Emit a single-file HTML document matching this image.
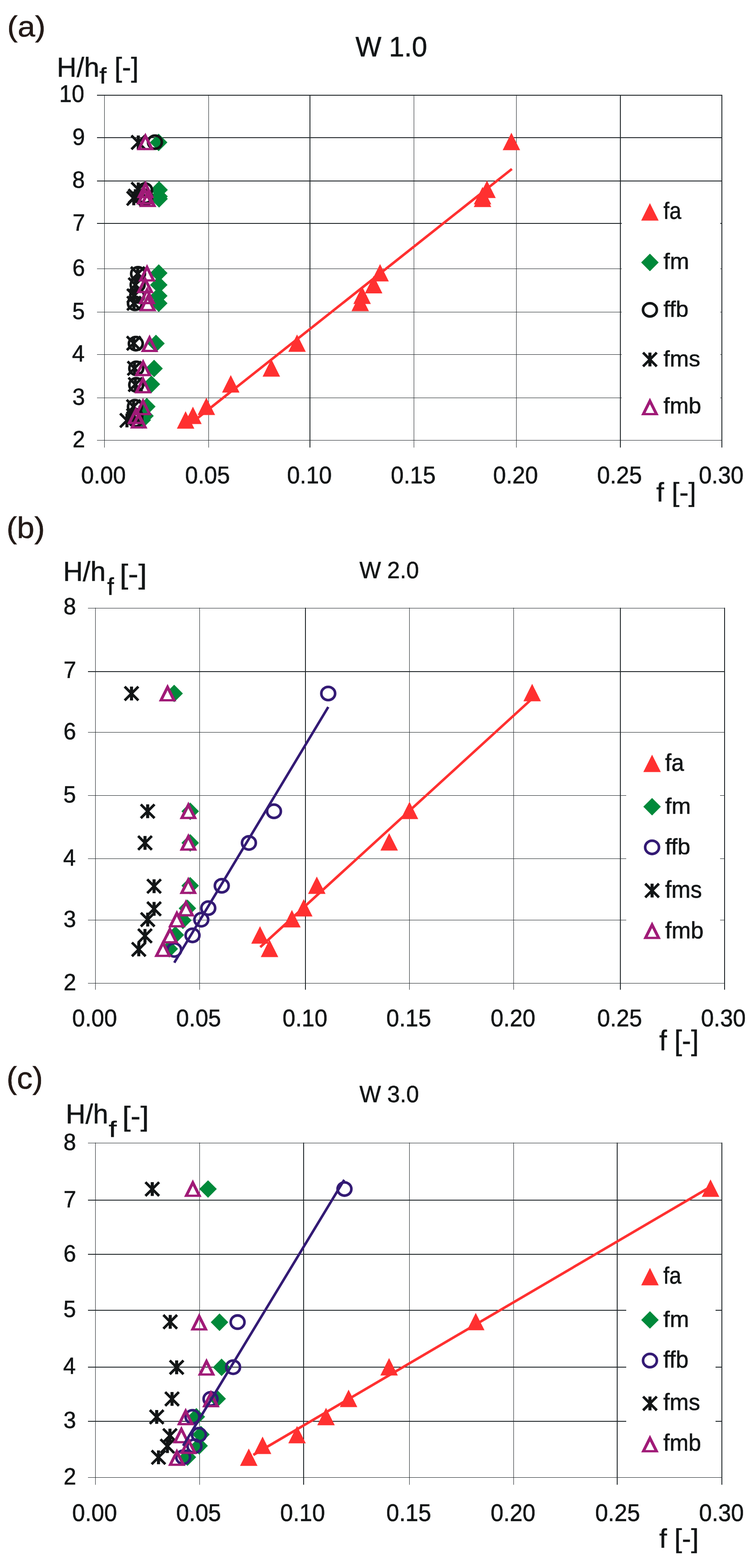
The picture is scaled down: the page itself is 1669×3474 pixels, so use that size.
<!DOCTYPE html>
<html><head><meta charset="utf-8"><title>Friction factor charts W 1.0 / W 2.0 / W 3.0</title>
<style>html,body{margin:0;padding:0;background:#fff}svg{display:block}</style></head>
<body>
<svg width="1669" height="3474" viewBox="0 0 1669 3474">
<rect width="1669" height="3474" fill="#fff"/>
<path d="M215,211H1601.0" stroke="#23292c" stroke-width="2"/>
<path d="M215,305H1601.0" stroke="#23292c" stroke-width="2"/>
<path d="M215,401H1601.0" stroke="#23292c" stroke-width="2"/>
<path d="M215,495H1601.0" stroke="#23292c" stroke-width="2"/>
<path d="M215,595.5H1601.0" stroke="#23292c" stroke-width="1"/>
<path d="M215,691.5H1601.0" stroke="#23292c" stroke-width="1"/>
<path d="M215,785.5H1601.0" stroke="#23292c" stroke-width="1"/>
<path d="M215,881.5H1601.0" stroke="#23292c" stroke-width="1"/>
<path d="M215,975.5H1601.0" stroke="#23292c" stroke-width="1"/>
<path d="M231.5,209.9V991.6" stroke="#23292c" stroke-width="1"/>
<path d="M462.5,209.9V991.6" stroke="#23292c" stroke-width="1"/>
<path d="M687,209.9V991.6" stroke="#23292c" stroke-width="2"/>
<path d="M917.5,209.9V991.6" stroke="#23292c" stroke-width="1"/>
<path d="M1144.5,209.9V991.6" stroke="#23292c" stroke-width="1"/>
<path d="M1375,209.9V991.6" stroke="#23292c" stroke-width="2"/>
<path d="M1600,209.9V991.6" stroke="#23292c" stroke-width="2"/>
<path d="M195,1347.5H1606.7" stroke="#23292c" stroke-width="1"/>
<path d="M195,1488H1606.7" stroke="#23292c" stroke-width="2"/>
<path d="M195,1622.5H1606.7" stroke="#23292c" stroke-width="1"/>
<path d="M195,1762.5H1606.7" stroke="#23292c" stroke-width="1"/>
<path d="M195,1902.5H1606.7" stroke="#23292c" stroke-width="1"/>
<path d="M195,2038.5H1606.7" stroke="#23292c" stroke-width="1"/>
<path d="M195,2178.5H1606.7" stroke="#23292c" stroke-width="1"/>
<path d="M211.5,1346.5V2192.8" stroke="#23292c" stroke-width="1"/>
<path d="M442.5,1346.5V2192.8" stroke="#23292c" stroke-width="1"/>
<path d="M677,1346.5V2192.8" stroke="#23292c" stroke-width="2"/>
<path d="M907.5,1346.5V2192.8" stroke="#23292c" stroke-width="1"/>
<path d="M1138.5,1346.5V2192.8" stroke="#23292c" stroke-width="1"/>
<path d="M1375,1346.5V2192.8" stroke="#23292c" stroke-width="2"/>
<path d="M1606,1346.5V2192.8" stroke="#23292c" stroke-width="2"/>
<path d="M195,2532.5H1601.0" stroke="#23292c" stroke-width="1"/>
<path d="M195,2659H1601.0" stroke="#23292c" stroke-width="2"/>
<path d="M195,2779H1601.0" stroke="#23292c" stroke-width="2"/>
<path d="M195,2903H1601.0" stroke="#23292c" stroke-width="2"/>
<path d="M195,3029H1601.0" stroke="#23292c" stroke-width="2"/>
<path d="M195,3149H1601.0" stroke="#23292c" stroke-width="2"/>
<path d="M195,3273.5H1601.0" stroke="#23292c" stroke-width="1"/>
<path d="M211.5,2531.5V3289.6" stroke="#23292c" stroke-width="1"/>
<path d="M442.5,2531.5V3289.6" stroke="#23292c" stroke-width="1"/>
<path d="M673,2531.5V3289.6" stroke="#23292c" stroke-width="2"/>
<path d="M907.5,2531.5V3289.6" stroke="#23292c" stroke-width="1"/>
<path d="M1138.5,2531.5V3289.6" stroke="#23292c" stroke-width="1"/>
<path d="M1368,2531.5V3289.6" stroke="#23292c" stroke-width="2"/>
<path d="M1600,2531.5V3289.6" stroke="#23292c" stroke-width="2"/>
<rect x="1378" y="415" width="218.5" height="557" fill="#fff"/>
<rect x="1388" y="1630" width="208" height="541" fill="#fff"/>
<rect x="1388" y="2780" width="198" height="490" fill="#fff"/>
<g style="font-family:'Liberation Sans',Arial,sans-serif" stroke-width="0.7">
<text transform="matrix(1.0600,0,0,1,16.09,80.93)" font-size="65.56" fill="#231a17" stroke="#231a17">(a)</text>
<text transform="matrix(0.9746,0,0,1,788.10,124.98)" font-size="62.29" fill="#121516" stroke="#121516">W 1.0</text>
<text transform="matrix(0.9931,0,0,1,126.05,170.09)" font-size="60.82" fill="#121516" stroke="#121516">H/h</text>
<text transform="matrix(1.1167,0,0,1,220.21,184.80)" font-size="50.69" fill="#121516" stroke="#121516">f</text>
<text transform="matrix(0.9856,0,0,1,253.83,170.21)" font-size="60.99" fill="#121516" stroke="#121516">[-]</text>
<text transform="matrix(1.0247,0,0,1,1454.74,1110.78)" font-size="59.70" fill="#121516" stroke="#121516">f [-]</text>
<text transform="matrix(1.0362,0,0,1,14.39,1191.62)" font-size="67.06" fill="#231a17" stroke="#231a17">(b)</text>
<text transform="matrix(0.9717,0,0,1,796.65,1281.28)" font-size="51.98" fill="#121516" stroke="#121516">W 2.0</text>
<text transform="matrix(0.9877,0,0,1,139.94,1287.09)" font-size="61.22" fill="#121516" stroke="#121516">H/h</text>
<text transform="matrix(1.0095,0,0,1,237.44,1317.90)" font-size="53.45" fill="#121516" stroke="#121516">f</text>
<text transform="matrix(1.1230,0,0,1,265.17,1292.90)" font-size="60.56" fill="#121516" stroke="#121516">[-]</text>
<text transform="matrix(0.9640,0,0,1,1461.15,2327.46)" font-size="62.70" fill="#121516" stroke="#121516">f [-]</text>
<text transform="matrix(1.0075,0,0,1,14.40,2411.96)" font-size="68.78" fill="#231a17" stroke="#231a17">(c)</text>
<text transform="matrix(0.9638,0,0,1,796.65,2441.98)" font-size="52.40" fill="#121516" stroke="#121516">W 3.0</text>
<text transform="matrix(0.9779,0,0,1,145.74,2488.78)" font-size="61.90" fill="#121516" stroke="#121516">H/h</text>
<text transform="matrix(1.2324,0,0,1,241.12,2518.50)" font-size="50.83" fill="#121516" stroke="#121516">f</text>
<text transform="matrix(1.0838,0,0,1,271.22,2494.06)" font-size="60.77" fill="#121516" stroke="#121516">[-]</text>
<text transform="matrix(1.0234,0,0,1,1461.15,3429.02)" font-size="59.06" fill="#121516" stroke="#121516">f [-]</text>
<text transform="matrix(0.9252,0,0,1,131.20,225.56)" font-size="54.10" fill="#121516" stroke="#121516">10</text>
<text transform="matrix(0.9700,0,0,1,160.57,320.50)" font-size="51.50" fill="#121516" stroke="#121516">9</text>
<text transform="matrix(0.9700,0,0,1,160.37,416.30)" font-size="51.50" fill="#121516" stroke="#121516">8</text>
<text transform="matrix(0.9700,0,0,1,160.72,510.50)" font-size="51.50" fill="#121516" stroke="#121516">7</text>
<text transform="matrix(0.9700,0,0,1,160.42,611.00)" font-size="51.50" fill="#121516" stroke="#121516">6</text>
<text transform="matrix(0.9700,0,0,1,160.32,707.10)" font-size="51.50" fill="#121516" stroke="#121516">5</text>
<text transform="matrix(0.9700,0,0,1,159.67,801.00)" font-size="51.50" fill="#121516" stroke="#121516">4</text>
<text transform="matrix(0.9700,0,0,1,160.42,896.80)" font-size="51.50" fill="#121516" stroke="#121516">3</text>
<text transform="matrix(0.9700,0,0,1,160.72,991.00)" font-size="51.50" fill="#121516" stroke="#121516">2</text>
<text transform="matrix(0.9700,0,0,1,140.67,1361.10)" font-size="51.50" fill="#121516" stroke="#121516">8</text>
<text transform="matrix(0.9700,0,0,1,141.02,1501.70)" font-size="51.50" fill="#121516" stroke="#121516">7</text>
<text transform="matrix(0.9700,0,0,1,140.72,1638.00)" font-size="51.50" fill="#121516" stroke="#121516">6</text>
<text transform="matrix(0.9700,0,0,1,140.62,1778.00)" font-size="51.50" fill="#121516" stroke="#121516">5</text>
<text transform="matrix(0.9700,0,0,1,139.97,1918.00)" font-size="51.50" fill="#121516" stroke="#121516">4</text>
<text transform="matrix(0.9700,0,0,1,140.72,2054.00)" font-size="51.50" fill="#121516" stroke="#121516">3</text>
<text transform="matrix(0.9700,0,0,1,141.02,2193.90)" font-size="51.50" fill="#121516" stroke="#121516">2</text>
<text transform="matrix(0.9700,0,0,1,140.67,2548.10)" font-size="51.50" fill="#121516" stroke="#121516">8</text>
<text transform="matrix(0.9700,0,0,1,141.02,2674.60)" font-size="51.50" fill="#121516" stroke="#121516">7</text>
<text transform="matrix(0.9700,0,0,1,140.72,2794.60)" font-size="51.50" fill="#121516" stroke="#121516">6</text>
<text transform="matrix(0.9700,0,0,1,140.62,2918.30)" font-size="51.50" fill="#121516" stroke="#121516">5</text>
<text transform="matrix(0.9700,0,0,1,139.97,3044.40)" font-size="51.50" fill="#121516" stroke="#121516">4</text>
<text transform="matrix(0.9700,0,0,1,140.72,3164.40)" font-size="51.50" fill="#121516" stroke="#121516">3</text>
<text transform="matrix(0.9700,0,0,1,141.02,3289.10)" font-size="51.50" fill="#121516" stroke="#121516">2</text>
<text transform="matrix(0.9470,0,0,1,179.76,1071.46)" font-size="53.81" fill="#121516" stroke="#121516">0.00</text>
<text transform="matrix(0.9486,0,0,1,410.26,1071.46)" font-size="53.81" fill="#121516" stroke="#121516">0.05</text>
<text transform="matrix(0.9470,0,0,1,636.26,1071.46)" font-size="53.81" fill="#121516" stroke="#121516">0.10</text>
<text transform="matrix(0.9486,0,0,1,866.31,1071.46)" font-size="53.81" fill="#121516" stroke="#121516">0.15</text>
<text transform="matrix(0.9470,0,0,1,1093.06,1071.46)" font-size="53.81" fill="#121516" stroke="#121516">0.20</text>
<text transform="matrix(0.9486,0,0,1,1323.56,1071.46)" font-size="53.81" fill="#121516" stroke="#121516">0.25</text>
<text transform="matrix(0.9470,0,0,1,1548.91,1071.46)" font-size="53.81" fill="#121516" stroke="#121516">0.30</text>
<text transform="matrix(0.9470,0,0,1,160.06,2274.36)" font-size="53.81" fill="#121516" stroke="#121516">0.00</text>
<text transform="matrix(0.9486,0,0,1,390.61,2274.36)" font-size="53.81" fill="#121516" stroke="#121516">0.05</text>
<text transform="matrix(0.9470,0,0,1,626.31,2274.36)" font-size="53.81" fill="#121516" stroke="#121516">0.10</text>
<text transform="matrix(0.9486,0,0,1,856.31,2274.36)" font-size="53.81" fill="#121516" stroke="#121516">0.15</text>
<text transform="matrix(0.9470,0,0,1,1087.41,2274.36)" font-size="53.81" fill="#121516" stroke="#121516">0.20</text>
<text transform="matrix(0.9486,0,0,1,1323.81,2274.36)" font-size="53.81" fill="#121516" stroke="#121516">0.25</text>
<text transform="matrix(0.9470,0,0,1,1553.76,2274.36)" font-size="53.81" fill="#121516" stroke="#121516">0.30</text>
<text transform="matrix(0.9495,0,0,1,160.06,3370.46)" font-size="53.67" fill="#121516" stroke="#121516">0.00</text>
<text transform="matrix(0.9511,0,0,1,390.61,3370.46)" font-size="53.67" fill="#121516" stroke="#121516">0.05</text>
<text transform="matrix(0.9495,0,0,1,621.11,3370.46)" font-size="53.67" fill="#121516" stroke="#121516">0.10</text>
<text transform="matrix(0.9511,0,0,1,856.31,3370.46)" font-size="53.67" fill="#121516" stroke="#121516">0.15</text>
<text transform="matrix(0.9495,0,0,1,1087.41,3370.46)" font-size="53.67" fill="#121516" stroke="#121516">0.20</text>
<text transform="matrix(0.9511,0,0,1,1319.21,3370.46)" font-size="53.67" fill="#121516" stroke="#121516">0.25</text>
<text transform="matrix(0.9495,0,0,1,1549.41,3370.46)" font-size="53.67" fill="#121516" stroke="#121516">0.30</text>
<text transform="matrix(0.9212,0,0,1,1470.54,485.29)" font-size="51.36" fill="#121516" stroke="#121516">fa</text>
<text transform="matrix(1.0095,0,0,1,1470.48,596.00)" font-size="50.83" fill="#121516" stroke="#121516">fm</text>
<text transform="matrix(1.0069,0,0,1,1470.49,701.89)" font-size="50.61" fill="#121516" stroke="#121516">ffb</text>
<text transform="matrix(1.0052,0,0,1,1470.49,812.10)" font-size="50.41" fill="#121516" stroke="#121516">fms</text>
<text transform="matrix(1.0042,0,0,1,1470.50,916.20)" font-size="50.07" fill="#121516" stroke="#121516">fmb</text>
<text transform="matrix(0.9483,0,0,1,1474.30,1708.47)" font-size="52.72" fill="#121516" stroke="#121516">fa</text>
<text transform="matrix(1.0122,0,0,1,1474.28,1802.60)" font-size="50.69" fill="#121516" stroke="#121516">fm</text>
<text transform="matrix(1.0124,0,0,1,1474.29,1892.50)" font-size="50.34" fill="#121516" stroke="#121516">ffb</text>
<text transform="matrix(0.9464,0,0,1,1474.29,1988.76)" font-size="53.54" fill="#121516" stroke="#121516">fms</text>
<text transform="matrix(0.9728,0,0,1,1474.28,2078.57)" font-size="52.52" fill="#121516" stroke="#121516">fmb</text>
<text transform="matrix(0.9307,0,0,1,1470.33,2844.49)" font-size="51.36" fill="#121516" stroke="#121516">fa</text>
<text transform="matrix(1.0197,0,0,1,1470.28,2939.80)" font-size="50.41" fill="#121516" stroke="#121516">fm</text>
<text transform="matrix(0.9928,0,0,1,1470.29,3029.99)" font-size="51.43" fill="#121516" stroke="#121516">ffb</text>
<text transform="matrix(0.9827,0,0,1,1470.29,3124.09)" font-size="51.50" fill="#121516" stroke="#121516">fms</text>
<text transform="matrix(0.9816,0,0,1,1470.30,3214.09)" font-size="51.16" fill="#121516" stroke="#121516">fmb</text>
</g>
<path d="M1440.5,450.0L1459.9,488.8L1421.1,488.8Z" fill="#ff3030"/>
<path d="M1440.5,562.1L1459.9,581.5L1440.5,600.9L1421.1,581.5Z" fill="#00893a"/>
<ellipse cx="1440.5" cy="686.5" rx="15.3" ry="14.7" fill="none" stroke="#121516" stroke-width="5.8"/>
<path d="M1425.3,781.3L1455.7,811.7M1455.7,781.3L1425.3,811.7" stroke="#121516" stroke-width="5.8" fill="none"/><rect x="1437.1" y="781.2" width="6.8" height="30.6" fill="#121516"/>
<path fill-rule="evenodd" d="M1440.5,881.2L1459.9,920.0L1421.1,920.0ZM1440.5,895.5L1450.2,915.0L1430.8,915.0Z" fill="#a01a77"/>
<path d="M1445.3,1672.0L1464.7,1710.6L1425.9,1710.6Z" fill="#ff3030"/>
<path d="M1445.3,1767.9L1464.7,1787.3L1445.3,1806.7L1425.9,1787.3Z" fill="#00893a"/>
<ellipse cx="1445.3" cy="1877.3" rx="15.3" ry="14.7" fill="none" stroke="#331a74" stroke-width="5.8"/>
<path d="M1430.1,1957.9L1460.5,1988.3M1460.5,1957.9L1430.1,1988.3" stroke="#121516" stroke-width="5.8" fill="none"/><rect x="1441.9" y="1957.8" width="6.8" height="30.6" fill="#121516"/>
<path fill-rule="evenodd" d="M1445.3,2041.8L1464.7,2080.5L1425.9,2080.5ZM1445.3,2056.2L1455.0,2075.5L1435.6,2075.5Z" fill="#a01a77"/>
<path d="M1440.6,2809.0L1460.0,2847.7L1421.2,2847.7Z" fill="#ff3030"/>
<path d="M1440.6,2905.0L1460.0,2924.4L1440.6,2943.8L1421.2,2924.4Z" fill="#00893a"/>
<ellipse cx="1440.6" cy="3014.4" rx="15.3" ry="14.7" fill="none" stroke="#331a74" stroke-width="5.8"/>
<path d="M1425.4,3094.2L1455.8,3124.6M1455.8,3094.2L1425.4,3124.6" stroke="#121516" stroke-width="5.8" fill="none"/><rect x="1437.2" y="3094.1" width="6.8" height="30.6" fill="#121516"/>
<path fill-rule="evenodd" d="M1440.6,3179.1L1460.0,3217.8L1421.2,3217.8ZM1440.6,3193.4L1450.3,3212.8L1430.9,3212.8Z" fill="#a01a77"/>
<path d="M1133.5,294.0L1152.9,332.8L1114.1,332.8Z" fill="#ff3030"/>
<path d="M1079.4,399.9L1098.8,438.7L1060.0,438.7Z" fill="#ff3030"/>
<path d="M1069.5,413.9L1088.9,452.7L1050.1,452.7Z" fill="#ff3030"/>
<path d="M1069.5,419.9L1088.9,458.7L1050.1,458.7Z" fill="#ff3030"/>
<path d="M842.4,584.9L861.8,623.6L823.0,623.6Z" fill="#ff3030"/>
<path d="M828.2,611.1L847.6,649.9L808.8,649.9Z" fill="#ff3030"/>
<path d="M802.6,634.6L822.0,673.4L783.2,673.4Z" fill="#ff3030"/>
<path d="M798.4,650.9L817.8,689.6L779.0,689.6Z" fill="#ff3030"/>
<path d="M658.4,740.9L677.8,779.6L639.0,779.6Z" fill="#ff3030"/>
<path d="M601.4,795.6L620.8,834.4L582.0,834.4Z" fill="#ff3030"/>
<path d="M511.5,831.0L530.9,869.8L492.1,869.8Z" fill="#ff3030"/>
<path d="M457.4,880.9L476.8,919.6L438.0,919.6Z" fill="#ff3030"/>
<path d="M427.6,900.9L447.0,939.6L408.2,939.6Z" fill="#ff3030"/>
<path d="M411.4,911.0L430.8,949.8L392.0,949.8Z" fill="#ff3030"/>
<path d="M351.6,296.2L371.0,315.6L351.6,335.0L332.2,315.6Z" fill="#00893a"/>
<path d="M352.6,401.3L372.0,420.7L352.6,440.1L333.2,420.7Z" fill="#00893a"/>
<path d="M352.6,415.8L372.0,435.2L352.6,454.6L333.2,435.2Z" fill="#00893a"/>
<path d="M352.6,421.2L372.0,440.6L352.6,460.0L333.2,440.6Z" fill="#00893a"/>
<path d="M351.9,585.6L371.3,605.0L351.9,624.4L332.5,605.0Z" fill="#00893a"/>
<path d="M351.9,611.8L371.3,631.2L351.9,650.6L332.5,631.2Z" fill="#00893a"/>
<path d="M351.9,636.1L371.3,655.5L351.9,674.9L332.5,655.5Z" fill="#00893a"/>
<path d="M351.9,652.5L371.3,671.9L351.9,691.3L332.5,671.9Z" fill="#00893a"/>
<path d="M345.7,741.6L365.1,761.0L345.7,780.4L326.3,761.0Z" fill="#00893a"/>
<path d="M341.5,797.0L360.9,816.4L341.5,835.8L322.1,816.4Z" fill="#00893a"/>
<path d="M335.6,831.9L355.0,851.3L335.6,870.7L316.2,851.3Z" fill="#00893a"/>
<path d="M325.4,881.4L344.8,900.8L325.4,920.2L306.0,900.8Z" fill="#00893a"/>
<path d="M321.4,902.0L340.8,921.4L321.4,940.8L302.0,921.4Z" fill="#00893a"/>
<path d="M315.3,911.3L334.7,930.7L315.3,950.1L295.9,930.7Z" fill="#00893a"/>
<ellipse cx="343.4" cy="315.0" rx="15.3" ry="14.7" fill="none" stroke="#121516" stroke-width="5.8"/>
<ellipse cx="321.5" cy="421.0" rx="15.3" ry="14.7" fill="none" stroke="#121516" stroke-width="5.8"/>
<ellipse cx="321.5" cy="435.0" rx="15.3" ry="14.7" fill="none" stroke="#121516" stroke-width="5.8"/>
<ellipse cx="321.5" cy="440.0" rx="15.3" ry="14.7" fill="none" stroke="#121516" stroke-width="5.8"/>
<ellipse cx="306.0" cy="606.5" rx="15.3" ry="14.7" fill="none" stroke="#121516" stroke-width="5.8"/>
<ellipse cx="305.0" cy="631.0" rx="15.3" ry="14.7" fill="none" stroke="#121516" stroke-width="5.8"/>
<ellipse cx="304.0" cy="655.5" rx="15.3" ry="14.7" fill="none" stroke="#121516" stroke-width="5.8"/>
<ellipse cx="299.0" cy="672.0" rx="15.3" ry="14.7" fill="none" stroke="#121516" stroke-width="5.8"/>
<ellipse cx="301.0" cy="761.3" rx="15.3" ry="14.7" fill="none" stroke="#121516" stroke-width="5.8"/>
<ellipse cx="302.0" cy="816.0" rx="15.3" ry="14.7" fill="none" stroke="#121516" stroke-width="5.8"/>
<ellipse cx="301.9" cy="852.7" rx="15.3" ry="14.7" fill="none" stroke="#121516" stroke-width="5.8"/>
<ellipse cx="299.0" cy="901.0" rx="15.3" ry="14.7" fill="none" stroke="#121516" stroke-width="5.8"/>
<ellipse cx="300.0" cy="921.0" rx="15.3" ry="14.7" fill="none" stroke="#121516" stroke-width="5.8"/>
<ellipse cx="300.0" cy="930.0" rx="15.3" ry="14.7" fill="none" stroke="#121516" stroke-width="5.8"/>
<path d="M291.3,300.3L321.7,330.7M321.7,300.3L291.3,330.7" stroke="#121516" stroke-width="5.8" fill="none"/><rect x="303.1" y="300.2" width="6.8" height="30.6" fill="#121516"/>
<path d="M291.3,404.3L321.7,434.7M321.7,404.3L291.3,434.7" stroke="#121516" stroke-width="5.8" fill="none"/><rect x="303.1" y="404.2" width="6.8" height="30.6" fill="#121516"/>
<path d="M284.8,419.3L315.2,449.7M315.2,419.3L284.8,449.7" stroke="#121516" stroke-width="5.8" fill="none"/><rect x="296.6" y="419.2" width="6.8" height="30.6" fill="#121516"/>
<path d="M281.3,424.3L311.7,454.7M311.7,424.3L281.3,454.7" stroke="#121516" stroke-width="5.8" fill="none"/><rect x="293.1" y="424.2" width="6.8" height="30.6" fill="#121516"/>
<path d="M290.2,591.2L320.6,621.6M320.6,591.2L290.2,621.6" stroke="#121516" stroke-width="5.8" fill="none"/><rect x="302.0" y="591.1" width="6.8" height="30.6" fill="#121516"/>
<path d="M284.8,615.8L315.2,646.2M315.2,615.8L284.8,646.2" stroke="#121516" stroke-width="5.8" fill="none"/><rect x="296.6" y="615.7" width="6.8" height="30.6" fill="#121516"/>
<path d="M281.8,640.3L312.2,670.7M312.2,640.3L281.8,670.7" stroke="#121516" stroke-width="5.8" fill="none"/><rect x="293.6" y="640.2" width="6.8" height="30.6" fill="#121516"/>
<path d="M281.8,656.8L312.2,687.2M312.2,656.8L281.8,687.2" stroke="#121516" stroke-width="5.8" fill="none"/><rect x="293.6" y="656.7" width="6.8" height="30.6" fill="#121516"/>
<path d="M281.2,745.3L311.6,775.7M311.6,745.3L281.2,775.7" stroke="#121516" stroke-width="5.8" fill="none"/><rect x="293.0" y="745.2" width="6.8" height="30.6" fill="#121516"/>
<path d="M282.8,800.8L313.2,831.2M313.2,800.8L282.8,831.2" stroke="#121516" stroke-width="5.8" fill="none"/><rect x="294.6" y="800.7" width="6.8" height="30.6" fill="#121516"/>
<path d="M284.8,836.8L315.2,867.2M315.2,836.8L284.8,867.2" stroke="#121516" stroke-width="5.8" fill="none"/><rect x="296.6" y="836.7" width="6.8" height="30.6" fill="#121516"/>
<path d="M280.8,885.8L311.2,916.2M311.2,885.8L280.8,916.2" stroke="#121516" stroke-width="5.8" fill="none"/><rect x="292.6" y="885.7" width="6.8" height="30.6" fill="#121516"/>
<path d="M280.8,905.8L311.2,936.2M311.2,905.8L280.8,936.2" stroke="#121516" stroke-width="5.8" fill="none"/><rect x="292.6" y="905.7" width="6.8" height="30.6" fill="#121516"/>
<path d="M266.2,916.3L296.6,946.7M296.6,916.3L266.2,946.7" stroke="#121516" stroke-width="5.8" fill="none"/><rect x="278.0" y="916.2" width="6.8" height="30.6" fill="#121516"/>
<path fill-rule="evenodd" d="M322.3,294.0L341.7,332.8L302.9,332.8ZM322.3,308.3L332.0,327.8L312.6,327.8Z" fill="#a01a77"/>
<path fill-rule="evenodd" d="M322.5,400.1L341.9,438.9L303.1,438.9ZM322.5,414.4L332.2,433.9L312.8,433.9Z" fill="#a01a77"/>
<path fill-rule="evenodd" d="M321.2,414.2L340.6,453.0L301.8,453.0ZM321.2,428.6L330.9,448.0L311.5,448.0Z" fill="#a01a77"/>
<path fill-rule="evenodd" d="M327.4,419.9L346.8,458.7L308.0,458.7ZM327.4,434.2L337.1,453.7L317.7,453.7Z" fill="#a01a77"/>
<path fill-rule="evenodd" d="M325.9,585.0L345.3,623.8L306.5,623.8ZM325.9,599.3L335.6,618.8L316.2,618.8Z" fill="#a01a77"/>
<path fill-rule="evenodd" d="M321.5,610.9L340.9,649.6L302.1,649.6ZM321.5,625.1L331.2,644.6L311.8,644.6Z" fill="#a01a77"/>
<path fill-rule="evenodd" d="M325.9,635.1L345.3,673.9L306.5,673.9ZM325.9,649.4L335.6,668.9L316.2,668.9Z" fill="#a01a77"/>
<path fill-rule="evenodd" d="M327.3,650.9L346.7,689.6L307.9,689.6ZM327.3,665.1L337.0,684.6L317.6,684.6Z" fill="#a01a77"/>
<path fill-rule="evenodd" d="M331.5,741.1L350.9,779.9L312.1,779.9ZM331.5,755.4L341.2,774.9L321.8,774.9Z" fill="#a01a77"/>
<path fill-rule="evenodd" d="M317.2,794.9L336.6,833.6L297.8,833.6ZM317.2,809.2L326.9,828.6L307.5,828.6Z" fill="#a01a77"/>
<path fill-rule="evenodd" d="M317.0,832.6L336.4,871.4L297.6,871.4ZM317.0,846.9L326.7,866.4L307.3,866.4Z" fill="#a01a77"/>
<path fill-rule="evenodd" d="M317.0,881.2L336.4,920.0L297.6,920.0ZM317.0,895.5L326.7,915.0L307.3,915.0Z" fill="#a01a77"/>
<path fill-rule="evenodd" d="M301.1,900.9L320.5,939.6L281.7,939.6ZM301.1,915.2L310.8,934.6L291.4,934.6Z" fill="#a01a77"/>
<path fill-rule="evenodd" d="M307.5,910.9L326.9,949.6L288.1,949.6ZM307.5,925.2L317.2,944.6L297.8,944.6Z" fill="#a01a77"/>
<path d="M437,927L1134.6,374.4" stroke="#ff3030" stroke-width="5.6" fill="none"/>
<path d="M1179.5,1515.1L1198.9,1553.8L1160.1,1553.8Z" fill="#ff3030"/>
<path d="M907.6,1776.2L927.0,1814.8L888.2,1814.8Z" fill="#ff3030"/>
<path d="M862.6,1845.9L882.0,1884.5L843.2,1884.5Z" fill="#ff3030"/>
<path d="M702.2,1942.0L721.6,1980.6L682.8,1980.6Z" fill="#ff3030"/>
<path d="M673.3,1992.0L692.7,2030.6L653.9,2030.6Z" fill="#ff3030"/>
<path d="M647.0,2016.1L666.4,2054.8L627.6,2054.8Z" fill="#ff3030"/>
<path d="M576.3,2052.0L595.7,2090.7L556.9,2090.7Z" fill="#ff3030"/>
<path d="M597.4,2081.8L616.8,2120.5L578.0,2120.5Z" fill="#ff3030"/>
<path d="M386.0,1517.0L405.4,1536.4L386.0,1555.8L366.6,1536.4Z" fill="#00893a"/>
<path d="M421.6,1778.1L441.0,1797.5L421.6,1816.9L402.2,1797.5Z" fill="#00893a"/>
<path d="M421.6,1848.1L441.0,1867.5L421.6,1886.9L402.2,1867.5Z" fill="#00893a"/>
<path d="M421.5,1942.9L440.9,1962.3L421.5,1981.7L402.1,1962.3Z" fill="#00893a"/>
<path d="M415.4,1993.0L434.8,2012.4L415.4,2031.8L396.0,2012.4Z" fill="#00893a"/>
<path d="M405.4,2019.6L424.8,2039.0L405.4,2058.4L386.0,2039.0Z" fill="#00893a"/>
<path d="M388.7,2052.1L408.1,2071.5L388.7,2090.9L369.3,2071.5Z" fill="#00893a"/>
<path d="M375.3,2082.8L394.7,2102.2L375.3,2121.6L355.9,2102.2Z" fill="#00893a"/>
<ellipse cx="727.5" cy="1536.5" rx="15.3" ry="14.7" fill="none" stroke="#331a74" stroke-width="5.8"/>
<ellipse cx="607.2" cy="1797.4" rx="15.3" ry="14.7" fill="none" stroke="#331a74" stroke-width="5.8"/>
<ellipse cx="551.7" cy="1867.6" rx="15.3" ry="14.7" fill="none" stroke="#331a74" stroke-width="5.8"/>
<ellipse cx="491.5" cy="1962.5" rx="15.3" ry="14.7" fill="none" stroke="#331a74" stroke-width="5.8"/>
<ellipse cx="461.6" cy="2012.0" rx="15.3" ry="14.7" fill="none" stroke="#331a74" stroke-width="5.8"/>
<ellipse cx="446.2" cy="2037.6" rx="15.3" ry="14.7" fill="none" stroke="#331a74" stroke-width="5.8"/>
<ellipse cx="426.7" cy="2072.3" rx="15.3" ry="14.7" fill="none" stroke="#331a74" stroke-width="5.8"/>
<ellipse cx="386.3" cy="2104.6" rx="15.3" ry="14.7" fill="none" stroke="#331a74" stroke-width="5.8"/>
<path d="M276.3,1521.3L306.7,1551.7M306.7,1521.3L276.3,1551.7" stroke="#121516" stroke-width="5.8" fill="none"/><rect x="288.1" y="1521.2" width="6.8" height="30.6" fill="#121516"/>
<path d="M312.1,1782.2L342.5,1812.6M342.5,1782.2L312.1,1812.6" stroke="#121516" stroke-width="5.8" fill="none"/><rect x="323.9" y="1782.1" width="6.8" height="30.6" fill="#121516"/>
<path d="M306.2,1852.3L336.6,1882.7M336.6,1852.3L306.2,1882.7" stroke="#121516" stroke-width="5.8" fill="none"/><rect x="318.0" y="1852.2" width="6.8" height="30.6" fill="#121516"/>
<path d="M326.3,1948.3L356.7,1978.7M356.7,1948.3L326.3,1978.7" stroke="#121516" stroke-width="5.8" fill="none"/><rect x="338.1" y="1948.2" width="6.8" height="30.6" fill="#121516"/>
<path d="M326.3,1998.4L356.7,2028.8M356.7,1998.4L326.3,2028.8" stroke="#121516" stroke-width="5.8" fill="none"/><rect x="338.1" y="1998.3" width="6.8" height="30.6" fill="#121516"/>
<path d="M312.2,2022.2L342.6,2052.6M342.6,2022.2L312.2,2052.6" stroke="#121516" stroke-width="5.8" fill="none"/><rect x="324.0" y="2022.1" width="6.8" height="30.6" fill="#121516"/>
<path d="M306.1,2058.3L336.5,2088.7M336.5,2058.3L306.1,2088.7" stroke="#121516" stroke-width="5.8" fill="none"/><rect x="317.9" y="2058.2" width="6.8" height="30.6" fill="#121516"/>
<path d="M292.4,2088.2L322.8,2118.6M322.8,2088.2L292.4,2118.6" stroke="#121516" stroke-width="5.8" fill="none"/><rect x="304.2" y="2088.1" width="6.8" height="30.6" fill="#121516"/>
<path d="M371.4,1529.5L381.1,1548.9L361.7,1548.9Z" fill="#fff"/><path fill-rule="evenodd" d="M371.4,1515.2L390.8,1553.9L352.0,1553.9ZM371.4,1529.5L381.1,1548.9L361.7,1548.9Z" fill="#a01a77"/>
<path d="M417.5,1790.4L427.2,1809.8L407.8,1809.8Z" fill="#fff"/><path fill-rule="evenodd" d="M417.5,1776.1L436.9,1814.8L398.1,1814.8ZM417.5,1790.4L427.2,1809.8L407.8,1809.8Z" fill="#a01a77"/>
<path d="M417.5,1860.4L427.2,1879.8L407.8,1879.8Z" fill="#fff"/><path fill-rule="evenodd" d="M417.5,1846.1L436.9,1884.8L398.1,1884.8ZM417.5,1860.4L427.2,1879.8L407.8,1879.8Z" fill="#a01a77"/>
<path d="M417.3,1956.5L427.0,1975.8L407.6,1975.8Z" fill="#fff"/><path fill-rule="evenodd" d="M417.3,1942.2L436.7,1980.8L397.9,1980.8ZM417.3,1956.5L427.0,1975.8L407.6,1975.8Z" fill="#a01a77"/>
<path d="M412.2,2006.2L421.9,2025.5L402.5,2025.5Z" fill="#fff"/><path fill-rule="evenodd" d="M412.2,1991.9L431.6,2030.5L392.8,2030.5ZM412.2,2006.2L421.9,2025.5L402.5,2025.5Z" fill="#a01a77"/>
<path d="M392.0,2030.4L401.7,2049.8L382.3,2049.8Z" fill="#fff"/><path fill-rule="evenodd" d="M392.0,2016.1L411.4,2054.8L372.6,2054.8ZM392.0,2030.4L401.7,2049.8L382.3,2049.8Z" fill="#a01a77"/>
<path d="M376.6,2066.0L386.3,2085.3L366.9,2085.3Z" fill="#fff"/><path fill-rule="evenodd" d="M376.6,2051.7L396.0,2090.3L357.2,2090.3ZM376.6,2066.0L386.3,2085.3L366.9,2085.3Z" fill="#a01a77"/>
<path d="M361.3,2096.0L371.0,2115.3L351.6,2115.3Z" fill="#fff"/><path fill-rule="evenodd" d="M361.3,2081.7L380.7,2120.3L341.9,2120.3ZM361.3,2096.0L371.0,2115.3L351.6,2115.3Z" fill="#a01a77"/>
<path d="M576.8,2098.4L1179.4,1548" stroke="#ff3030" stroke-width="5.6" fill="none"/>
<path d="M727.6,1566.4L386.3,2132.9" stroke="#331a74" stroke-width="5.6" fill="none"/>
<path d="M1574.9,2613.1L1594.3,2651.8L1555.5,2651.8Z" fill="#ff3030"/>
<path d="M1054.5,2908.7L1073.9,2947.3L1035.1,2947.3Z" fill="#ff3030"/>
<path d="M862.4,3008.8L881.8,3047.4L843.0,3047.4Z" fill="#ff3030"/>
<path d="M772.6,3078.8L792.0,3117.4L753.2,3117.4Z" fill="#ff3030"/>
<path d="M722.6,3119.0L742.0,3157.7L703.2,3157.7Z" fill="#ff3030"/>
<path d="M658.4,3159.2L677.8,3197.8L639.0,3197.8Z" fill="#ff3030"/>
<path d="M582.0,3182.8L601.4,3221.5L562.6,3221.5Z" fill="#ff3030"/>
<path d="M551.4,3209.2L570.8,3247.8L532.0,3247.8Z" fill="#ff3030"/>
<path d="M461.1,2614.9L480.5,2634.3L461.1,2653.7L441.7,2634.3Z" fill="#00893a"/>
<path d="M486.5,2910.1L505.9,2929.5L486.5,2948.9L467.1,2929.5Z" fill="#00893a"/>
<path d="M491.1,3010.0L510.5,3029.4L491.1,3048.8L471.7,3029.4Z" fill="#00893a"/>
<path d="M481.4,3079.5L500.8,3098.9L481.4,3118.3L462.0,3098.9Z" fill="#00893a"/>
<path d="M435.2,3119.5L454.6,3138.9L435.2,3158.3L415.8,3138.9Z" fill="#00893a"/>
<path d="M445.4,3158.9L464.8,3178.3L445.4,3197.7L426.0,3178.3Z" fill="#00893a"/>
<path d="M441.4,3183.9L460.8,3203.3L441.4,3222.7L422.0,3203.3Z" fill="#00893a"/>
<path d="M415.5,3209.0L434.9,3228.4L415.5,3247.8L396.1,3228.4Z" fill="#00893a"/>
<ellipse cx="763.5" cy="2634.3" rx="15.3" ry="14.7" fill="none" stroke="#331a74" stroke-width="5.8"/>
<ellipse cx="526.6" cy="2929.2" rx="15.3" ry="14.7" fill="none" stroke="#331a74" stroke-width="5.8"/>
<ellipse cx="516.7" cy="3029.1" rx="15.3" ry="14.7" fill="none" stroke="#331a74" stroke-width="5.8"/>
<ellipse cx="466.6" cy="3099.4" rx="15.3" ry="14.7" fill="none" stroke="#331a74" stroke-width="5.8"/>
<ellipse cx="426.6" cy="3139.0" rx="15.3" ry="14.7" fill="none" stroke="#331a74" stroke-width="5.8"/>
<ellipse cx="440.8" cy="3178.8" rx="15.3" ry="14.7" fill="none" stroke="#331a74" stroke-width="5.8"/>
<ellipse cx="431.0" cy="3204.0" rx="15.3" ry="14.7" fill="none" stroke="#331a74" stroke-width="5.8"/>
<ellipse cx="406.0" cy="3228.6" rx="15.3" ry="14.7" fill="none" stroke="#331a74" stroke-width="5.8"/>
<path d="M322.3,2619.2L352.7,2649.6M352.7,2619.2L322.3,2649.6" stroke="#121516" stroke-width="5.8" fill="none"/><rect x="334.1" y="2619.1" width="6.8" height="30.6" fill="#121516"/>
<path d="M362.1,2913.4L392.5,2943.8M392.5,2913.4L362.1,2943.8" stroke="#121516" stroke-width="5.8" fill="none"/><rect x="373.9" y="2913.3" width="6.8" height="30.6" fill="#121516"/>
<path d="M376.3,3014.2L406.7,3044.6M406.7,3014.2L376.3,3044.6" stroke="#121516" stroke-width="5.8" fill="none"/><rect x="388.1" y="3014.1" width="6.8" height="30.6" fill="#121516"/>
<path d="M366.1,3084.2L396.5,3114.6M396.5,3084.2L366.1,3114.6" stroke="#121516" stroke-width="5.8" fill="none"/><rect x="377.9" y="3084.1" width="6.8" height="30.6" fill="#121516"/>
<path d="M332.1,3124.1L362.5,3154.5M362.5,3124.1L332.1,3154.5" stroke="#121516" stroke-width="5.8" fill="none"/><rect x="343.9" y="3124.0" width="6.8" height="30.6" fill="#121516"/>
<path d="M361.5,3165.5L391.9,3195.9M391.9,3165.5L361.5,3195.9" stroke="#121516" stroke-width="5.8" fill="none"/><rect x="373.3" y="3165.4" width="6.8" height="30.6" fill="#121516"/>
<path d="M355.8,3188.8L386.2,3219.2M386.2,3188.8L355.8,3219.2" stroke="#121516" stroke-width="5.8" fill="none"/><rect x="367.6" y="3188.7" width="6.8" height="30.6" fill="#121516"/>
<path d="M336.1,3213.6L366.5,3244.0M366.5,3213.6L336.1,3244.0" stroke="#121516" stroke-width="5.8" fill="none"/><rect x="347.9" y="3213.5" width="6.8" height="30.6" fill="#121516"/>
<path fill-rule="evenodd" d="M427.4,2613.1L446.8,2651.8L408.0,2651.8ZM427.4,2627.4L437.1,2646.8L417.7,2646.8Z" fill="#a01a77"/>
<path fill-rule="evenodd" d="M441.5,2909.1L460.9,2947.8L422.1,2947.8ZM441.5,2923.4L451.2,2942.8L431.8,2942.8Z" fill="#a01a77"/>
<path fill-rule="evenodd" d="M457.7,3009.1L477.1,3047.8L438.3,3047.8ZM457.7,3023.4L467.4,3042.8L448.0,3042.8Z" fill="#a01a77"/>
<path fill-rule="evenodd" d="M467.5,3079.2L486.9,3117.9L448.1,3117.9ZM467.5,3093.6L477.2,3112.9L457.8,3112.9Z" fill="#a01a77"/>
<path fill-rule="evenodd" d="M411.5,3119.1L430.9,3157.8L392.1,3157.8ZM411.5,3133.4L421.2,3152.8L401.8,3152.8Z" fill="#a01a77"/>
<path fill-rule="evenodd" d="M402.0,3159.2L421.4,3197.8L382.6,3197.8ZM402.0,3173.5L411.7,3192.8L392.3,3192.8Z" fill="#a01a77"/>
<path fill-rule="evenodd" d="M417.6,3182.8L437.0,3221.5L398.2,3221.5ZM417.6,3197.2L427.3,3216.5L407.9,3216.5Z" fill="#a01a77"/>
<path fill-rule="evenodd" d="M392.0,3209.1L411.4,3247.8L372.6,3247.8ZM392.0,3223.4L401.7,3242.8L382.3,3242.8Z" fill="#a01a77"/>
<path d="M561.5,3223.5L1572,2631" stroke="#ff3030" stroke-width="5.6" fill="none"/>
<path d="M763,2614L405.8,3203.3" stroke="#331a74" stroke-width="5.6" fill="none"/>
</svg>
</body></html>
